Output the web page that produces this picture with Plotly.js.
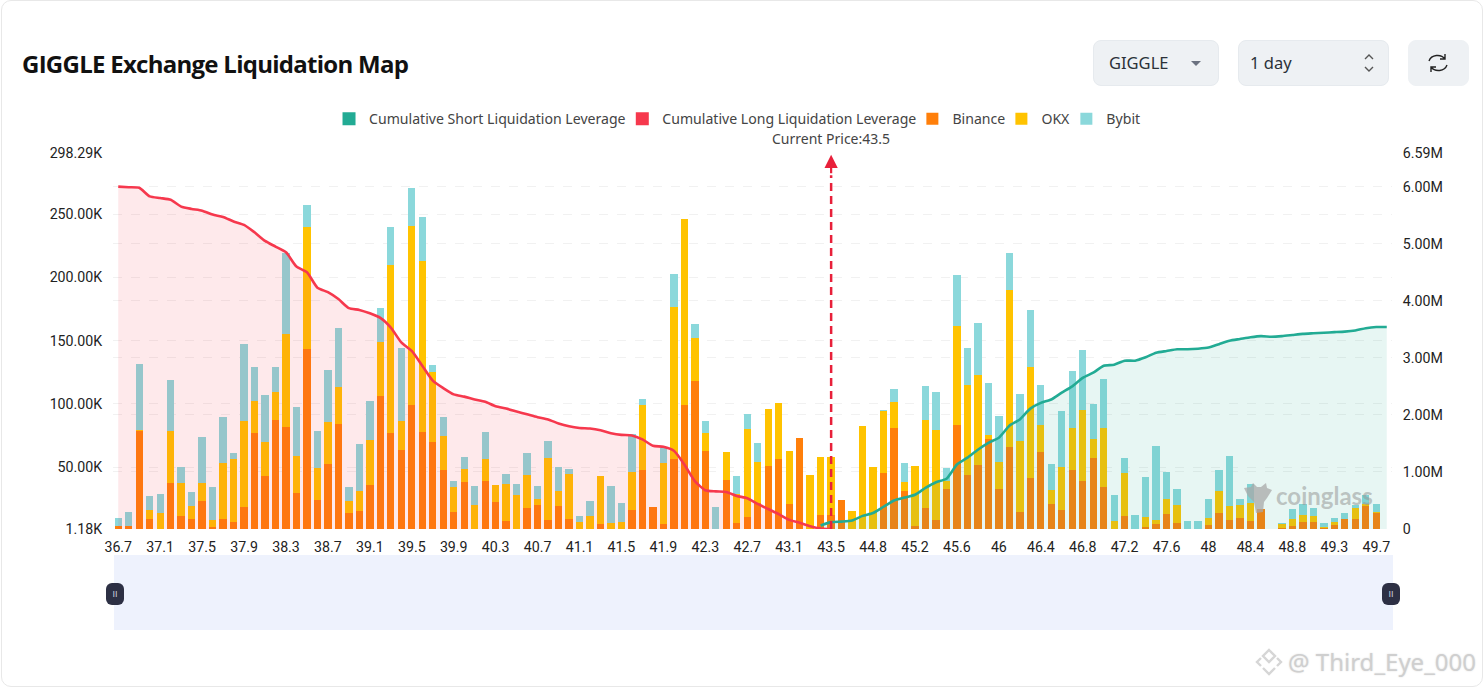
<!DOCTYPE html>
<html>
<head>
<meta charset="utf-8">
<script src="https://cdn.plot.ly/plotly-3.0.1.min.js"></script>
<style>
  html, body { margin: 0; padding: 0; background: #fff; overflow: hidden; }
  #card { position: absolute; left: 1px; top: 0; width: 1480px; height: 685px; border: 1px solid #e8e8e8; border-radius: 10px; }
  #gauge { position: absolute; left: 0; top: 0; width: 1483px; height: 687px; }
  #title { position: absolute; left: 22px; top: 47px; font: 700 24px "Open Sans", sans-serif; color: #111; letter-spacing: -0.73px; white-space: nowrap; }
  .ctl { position: absolute; top: 40px; height: 44px; background: #eef1f4; border: 1px solid #e6eaee; border-radius: 8px; font: 16.5px/43px "Noto Sans", sans-serif; color: #2b3139; }
  #slider { position: absolute; left: 114px; top: 555px; width: 1279px; height: 75px; background: #eef2fd; }
  .handle { position: absolute; top: 583px; width: 18px; height: 22px; background: #2d3044; border-radius: 6px; color: #ccd; font: 9px/22px "Liberation Sans", sans-serif; text-align: center; }
  #mark { position: absolute; left: 1288px; top: 645px; font: 24px "Noto Sans", sans-serif; color: #cfcfcf; text-shadow: 0 0 2px #ddd; white-space: nowrap; }
</style>
</head>
<body>
<div id="card"></div>
<div id="gauge"></div>
<div id="title">GIGGLE Exchange Liquidation Map</div>

<div class="ctl" style="left:1093px;width:124px;"><span style="margin-left:15px;">GIGGLE</span>
  <svg style="position:absolute;left:96px;top:19px;" width="12" height="7"><path d="M1 1H11L6 6Z" fill="#6b7280"/></svg></div>
<div class="ctl" style="left:1238px;width:149px;"><span style="margin-left:11px;">1 day</span>
  <svg style="position:absolute;left:124px;top:12px;" width="12" height="20" fill="none" stroke="#555" stroke-width="1.4"><path d="M2 6L6 2L10 6M2 14L6 18L10 14"/></svg></div>
<div class="ctl" style="left:1408px;width:59px;border-color:#eef1f4;">
  <svg style="position:absolute;left:18px;top:11px;" width="22" height="22" viewBox="0 0 22 22" fill="none" stroke="#222" stroke-width="1.4"><path d="M2 9A9 8 0 0 1 18 7M20 13A9 8 0 0 1 4 15M18 2V7H13M4 20V15H9"/></svg></div>

<div id="slider"></div>
<div class="handle" style="left:106px;">II</div>
<div class="handle" style="left:1382px;">II</div>

<svg style="position:absolute;left:1243px;top:482px;" width="30" height="32"><path d="M1 6L8 5L10 1L14 5H18L23 1L24 6L29 8L24 16L21 20L20 30L13 31L11 20L5 14Z" fill="#a8a8a8" fill-opacity="0.75"/></svg>
<svg style="position:absolute;left:1255px;top:648px;" width="28" height="28" fill="none" stroke="#d6d6d6" stroke-width="2.4"><path d="M14 2L20 8L14 14L8 8ZM6 10L2 14L6 18M22 10L26 14L22 18M8 20L14 26L20 20"/></svg>
<div id="mark">@ Third_Eye_000</div>

<script>
var prices = ["36.7","36.8","36.9","37","37.1","37.2","37.3","37.4","37.5","37.6","37.7","37.8","37.9","38","38.1","38.2","38.3","38.4","38.5","38.6","38.7","38.8","38.9","39","39.1","39.2","39.3","39.4","39.5","39.6","39.7","39.8","39.9","40","40.1","40.2","40.3","40.4","40.5","40.6","40.7","40.8","40.9","41","41.1","41.2","41.3","41.4","41.5","41.6","41.7","41.8","41.9","42","42.1","42.2","42.3","42.4","42.5","42.6","42.7","42.8","42.9","43","43.1","43.2","43.3","43.4","43.5","44.5","44.6","44.7","44.8","44.9","45","45.1","45.2","45.3","45.4","45.5","45.6","45.7","45.8","45.9","46","46.1","46.2","46.3","46.4","46.5","46.6","46.7","46.8","46.9","47","47.1","47.2","47.3","47.4","47.5","47.6","47.7","47.8","47.9","48","48.1","48.2","48.3","48.4","48.5","48.6","48.7","48.8","48.9","49","49.2","49.3","49.4","49.5","49.6","49.7","49.8"];
var xTicks = ["36.7","37.1","37.5","37.9","38.3","38.7","39.1","39.5","39.9","40.3","40.7","41.1","41.5","41.9","42.3","42.7","43.1","43.5","44.8","45.2","45.6","46","46.4","46.8","47.2","47.6","48","48.4","48.8","49.3","49.7"];

// thousands
var binance = [3.2,3.2,79,9.2,1.2,37.7,11.5,8.8,23.5,2.8,9.3,6.7,18.6,76.9,43,87.2,81.6,29.8,143.7,24.2,52.7,84,13.8,15.7,36.2,106.2,76.9,63.8,99,78,69.8,48.2,14.6,38.2,1.2,39.1,22.8,7.8,1.2,17.8,20.4,8.2,19.1,9.1,1.2,1.2,5.4,1.2,1.2,16.2,47.5,18.2,5.4,56.7,99.5,117.9,63.2,1.2,39.8,6.2,10.7,22,50.9,56.4,20.9,73,1.2,12.2,12.2,24.2,1.2,1.2,1.2,45.2,81.2,31.4,3.8,17.5,8,33,83.7,44,51.9,72.4,33,66.2,14.9,41.2,61.7,20.7,15.9,48,38.8,57.5,34.2,1.2,11.5,1.2,2.5,4.9,12.8,5.7,1.2,1.2,4.1,13.6,8.2,9.6,7.2,16.7,1.5,2,3.3,6.5,6.7,2.2,4.4,8.8,8.8,19.2,14.2,1.2];
var okx = [0.5,0.5,0.5,7,13,40.7,26.3,10.5,13.7,5.3,44.2,50,68,25.5,26.8,22.3,74,28.7,96.5,25.5,33,29.4,9.7,15.8,35.2,42.8,132.8,22.9,142,134.6,55.5,26.3,19.7,10.5,19,17.4,13.1,29.2,26.8,26.3,4.7,48.9,12.4,35.2,5.3,10.3,37.9,5,5.5,30,52,0,48,119.9,146.9,34.2,13.9,0,22,23,69.4,32.3,45.2,44.4,41.8,0,43,46,46,0,14,81,48.9,49,20,6.8,47.3,69.9,71.2,5.8,78,70.7,70.7,3.2,20.8,124,56,87.8,21.3,11.6,34.2,32.6,56.5,14.7,47,6.3,34.2,0,8.1,3.7,12.4,14.7,0,0,6,17.6,11,10.5,14.2,0,0,3.4,5.8,5.5,5,0.5,2.4,0.5,8.7,1.6,0.3,0];
var bybit = [5.8,11,51.8,11,15,40.7,12.4,11,36.5,26.3,36,4.5,60.5,26.8,37.6,19.7,63.4,38.9,17,28.9,41.3,46.5,10.5,36.5,30.8,26.8,30.5,57.8,29.4,35.2,5.8,15,4.5,9,15,21.3,0,7.4,8.7,17.4,10.3,13.7,18.7,4.5,4.7,12,0,28.9,15.2,30.2,4.5,0,11.8,26,0,11.3,9.2,17,0,13.7,11.6,15,0,0,0,0,0,0,0,0,0,0,0,1.3,11,15.5,0,27,30.5,10.8,40,29.4,41,41.3,36.3,29.4,36.8,45.2,32.3,20.5,44.7,45.2,47,27.6,38.6,20.4,11.6,11,32,58,20.8,12,6.6,6.3,14.5,16.6,40,4.7,15,0,0,0.5,8.1,8.7,6.3,3.2,3.4,4.2,2.9,7.4,6.4,0];

// millions, first 69 prices
var longLev = [6,5.99,5.98,5.83,5.8,5.77,5.65,5.61,5.58,5.51,5.47,5.39,5.33,5.2,5.05,4.95,4.85,4.6,4.5,4.23,4.15,4.03,3.87,3.84,3.78,3.7,3.53,3.27,3.12,2.86,2.6,2.47,2.36,2.32,2.27,2.23,2.15,2.11,2.06,2.01,1.96,1.92,1.85,1.8,1.77,1.76,1.73,1.68,1.65,1.64,1.57,1.46,1.44,1.37,1.13,0.84,0.68,0.66,0.65,0.58,0.54,0.44,0.35,0.26,0.16,0.11,0.05,0.01,0];
// millions, from the 68th price on
var shortLev = [0.06,0.12,0.13,0.15,0.23,0.28,0.39,0.5,0.55,0.6,0.72,0.82,0.88,1.13,1.25,1.39,1.51,1.6,1.81,1.92,2.11,2.21,2.27,2.39,2.5,2.65,2.74,2.86,2.88,2.95,2.95,3.01,3.09,3.12,3.15,3.15,3.16,3.18,3.24,3.3,3.33,3.36,3.38,3.37,3.38,3.4,3.42,3.43,3.44,3.45,3.46,3.48,3.52,3.54,3.54];

var leftTicks = [1.18,50,100,150,200,250,298.29];
var leftText = ["1.18K","50.00K","100.00K","150.00K","200.00K","250.00K","298.29K"];
var rightTicks = [0,1,2,3,4,5,6,6.59];
var rightText = ["0","1.00M","2.00M","3.00M","4.00M","5.00M","6.00M","6.59M"];

var currentIdx = prices.indexOf("43.5");  // category axis position

var tickFont = { family: "Roboto, sans-serif", size: 14.2, color: "#222" };
var gridColor = "#f1f1f1";
var legendFont = { family: "Noto Sans, sans-serif", size: 14.1, color: "#444" };

function legendAt(x) {
  return { orientation: "h", x: x, xanchor: "left", y: 1.09, yanchor: "middle", font: legendFont };
}

var data = [
  { type: "scatter", mode: "lines", x: prices.slice(67), y: shortLev, yaxis: "y2", showlegend: false,
    line: { color: "#22ab94", width: 2.6, shape: "spline", smoothing: 0.6 }, fill: "tozeroy", fillcolor: "rgba(34,171,148,0.11)", hoverinfo: "skip" },
  { type: "scatter", mode: "lines", x: prices.slice(0, 69), y: longLev, yaxis: "y2", showlegend: false,
    line: { color: "#f6384d", width: 2.6, shape: "spline", smoothing: 0.6 }, fill: "tozeroy", fillcolor: "rgba(246,56,77,0.11)", hoverinfo: "skip" },
  // legend squares
  { type: "scatter", mode: "markers", x: [null], y: [null], name: "Cumulative Short Liquidation Leverage", legend: "legend", marker: { symbol: "square", size: 13, color: "#22ab94" } },
  { type: "scatter", mode: "markers", x: [null], y: [null], name: "Cumulative Long Liquidation Leverage", legend: "legend2", marker: { symbol: "square", size: 13, color: "#f6384d" } },
  { type: "bar", x: prices, y: binance, name: "Binance", legend: "legend3", marker: { color: "#ff7f0a" } },
  { type: "bar", x: prices, y: okx, name: "OKX", legend: "legend4", marker: { color: "#ffc300" } },
  { type: "bar", x: prices, y: bybit, name: "Bybit", legend: "legend5", marker: { color: "#8bd8db" } }
];

var layout = {
  width: 1483,
  height: 687,
  margin: { l: 113, r: 91, t: 152.5, b: 158 },
  paper_bgcolor: "rgba(0,0,0,0)",
  plot_bgcolor: "rgba(0,0,0,0)",
  barmode: "stack",
  bargap: 0.3,
  showlegend: true,
  legend: legendAt(0.1689),
  legend2: legendAt(0.3982),
  legend3: legendAt(0.6250),
  legend4: legendAt(0.6946),
  legend5: legendAt(0.7454),
  xaxis: { type: "category", categoryorder: "array", categoryarray: prices, tickmode: "array", tickvals: xTicks, ticktext: xTicks,
           tickfont: tickFont, showgrid: false, zeroline: false, showline: false, ticks: "outside", ticklen: 5, tickcolor: "rgba(0,0,0,0)", tickangle: 0 },
  yaxis: { range: [1.18, 298.29], tickmode: "array", tickvals: leftTicks, ticktext: leftText, tickfont: tickFont,
           showgrid: true, gridcolor: gridColor, griddash: "dash", zeroline: false, ticks: "outside", ticklen: 7, tickcolor: "rgba(0,0,0,0)" },
  yaxis2: { range: [0, 6.59], overlaying: "y", side: "right", tickmode: "array", tickvals: rightTicks, ticktext: rightText, tickfont: tickFont,
            showgrid: true, gridcolor: gridColor, griddash: "dash", zeroline: false, ticks: "outside", ticklen: 7, tickcolor: "rgba(0,0,0,0)" },
  shapes: [
    { type: "line", xref: "x", yref: "y2", x0: currentIdx, x1: currentIdx, y0: 0, y1: 6.2, line: { color: "#e8203a", width: 2.5, dash: "8px,5px" }, layer: "above" }
  ],
  annotations: [
    { xref: "x", yref: "paper", x: currentIdx, y: 1.038, text: "Current Price:43.5", showarrow: false, yanchor: "middle",
      font: { family: "Noto Sans, sans-serif", size: 14, color: "#444" } },
    { xref: "x", yref: "y2", x: currentIdx, y: 6.56, ax: 0, ay: 20, text: "", showarrow: true, arrowhead: 2, arrowsize: 1.2, arrowwidth: 2.2, arrowcolor: "#e8203a" },
    { xref: "paper", yref: "paper", x: 0.947, y: 0.09, xanchor: "center", yanchor: "middle", text: "<b>coinglass</b>", showarrow: false,
      font: { family: "Lato, sans-serif", size: 24, color: "rgba(150,150,150,0.55)" } }
  ]
};

Plotly.newPlot("gauge", data, layout, { displayModeBar: false, staticPlot: true });
</script>
</body>
</html>
